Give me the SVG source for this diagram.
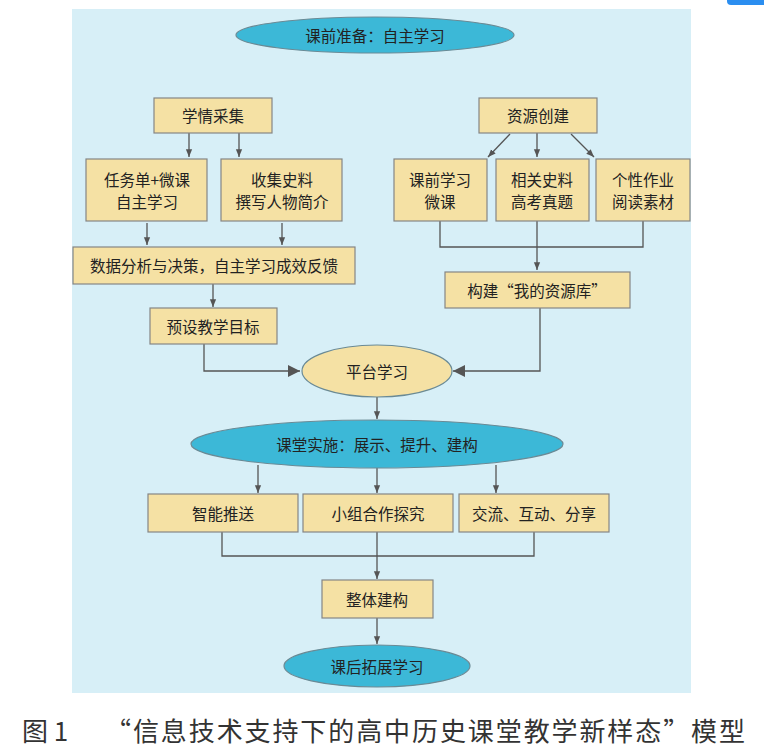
<svg xmlns="http://www.w3.org/2000/svg" width="764" height="755" viewBox="0 0 764 755">
<defs>
<style>
.b{fill:#f5e1a4;stroke:#858585;stroke-width:1.2}
.e{fill:#3cb8d7;stroke:#6a8a95;stroke-width:1.2}
.y{fill:#f5e1a4;stroke:#6a8a95;stroke-width:1.2}
text{font-family:"Noto Sans CJK SC","Noto Sans",sans-serif;font-size:15.5px;fill:#222;text-anchor:middle;dominant-baseline:central}
.c path{fill:none;stroke:#555;stroke-width:1.3}
.cap{font-size:26px;fill:#333;text-anchor:start}
</style>
<marker id="a" viewBox="0 0 10 10" refX="10" refY="5" markerWidth="6" markerHeight="6" orient="auto"><path d="M0,1 L10,5 L0,9 z" fill="#555"/></marker>
<marker id="A" viewBox="0 0 10 10" refX="10" refY="5" markerWidth="12" markerHeight="12" orient="auto" markerUnits="userSpaceOnUse"><path d="M0,0 L10,5 L0,10 z" fill="#555"/></marker>
</defs>
<rect x="727" y="-6" width="40" height="11" rx="4" fill="#2b8ef0"/>
<rect x="72" y="9" width="619" height="684" fill="#d7eff7"/>
<g id="connectors" class="c">
<path d="M189,133V157" marker-end="url(#a)"/>
<path d="M239,133V157" marker-end="url(#a)"/>
<path d="M510,134L488,157" marker-end="url(#a)"/>
<path d="M537,133V157" marker-end="url(#a)"/>
<path d="M571,134L594,157" marker-end="url(#a)"/>
<path d="M147,223V245" marker-end="url(#a)"/>
<path d="M282,223V245" marker-end="url(#a)"/>
<path d="M440,221V247H643V221"/>
<path d="M537,221V270" marker-end="url(#a)"/>
<path d="M213,284V307" marker-end="url(#a)"/>
<path d="M204,344V371H300" marker-end="url(#A)"/>
<path d="M540,308V371H453" marker-end="url(#A)"/>
<path d="M377,397V419" marker-end="url(#a)"/>
<path d="M258,465V493" marker-end="url(#a)"/>
<path d="M377,466V493" marker-end="url(#a)"/>
<path d="M496,465V493" marker-end="url(#a)"/>
<path d="M222,532V556H534V532"/>
<path d="M377,532V579" marker-end="url(#a)"/>
<path d="M377,618V644" marker-end="url(#a)"/>
</g>
<g id="n1"><ellipse class="e" cx="375" cy="35" rx="139" ry="18"/><text x="375" y="35">课前准备：自主学习</text></g>
<g id="n2"><rect class="b" x="154" y="98" width="118" height="35"/><text x="213" y="115">学情采集</text></g>
<g id="n3"><rect class="b" x="479" y="98" width="118" height="35"/><text x="538" y="115">资源创建</text></g>
<g id="n4"><rect class="b" x="86" y="159" width="121" height="62"/><text x="147" y="179">任务单+微课</text><text x="147" y="201">自主学习</text></g>
<g id="n5"><rect class="b" x="221" y="159" width="121" height="62"/><text x="282" y="179">收集史料</text><text x="282" y="201">撰写人物简介</text></g>
<g id="n6"><rect class="b" x="394" y="159" width="93" height="62"/><text x="440" y="179">课前学习</text><text x="440" y="201">微课</text></g>
<g id="n7"><rect class="b" x="496" y="159" width="93" height="62"/><text x="542" y="179">相关史料</text><text x="542" y="201">高考真题</text></g>
<g id="n8"><rect class="b" x="596" y="159" width="94" height="62"/><text x="643" y="179">个性作业</text><text x="643" y="201">阅读素材</text></g>
<g id="n9"><rect class="b" x="73" y="247" width="282" height="37"/><text x="214" y="265">数据分析与决策，自主学习成效反馈</text></g>
<g id="n10"><rect class="b" x="445" y="272" width="185" height="36"/><text x="537" y="290">构建“我的资源库”</text></g>
<g id="n11"><rect class="b" x="150" y="308" width="127" height="36"/><text x="213" y="326">预设教学目标</text></g>
<g id="n12"><ellipse class="y" cx="377" cy="371" rx="75" ry="26"/><text x="377" y="371">平台学习</text></g>
<g id="n13"><ellipse class="e" cx="377" cy="444" rx="186" ry="24"/><text x="377" y="444">课堂实施：展示、提升、建构</text></g>
<g id="n14"><rect class="b" x="148" y="494" width="150" height="38"/><text x="223" y="513">智能推送</text></g>
<g id="n15"><rect class="b" x="303" y="494" width="150" height="38"/><text x="378" y="513">小组合作探究</text></g>
<g id="n16"><rect class="b" x="459" y="494" width="150" height="38"/><text x="534" y="513">交流、互动、分享</text></g>
<g id="n17"><rect class="b" x="322" y="580" width="111" height="38"/><text x="377" y="599">整体建构</text></g>
<g id="n18"><ellipse class="e" cx="377" cy="666" rx="93" ry="21"/><text x="377" y="666">课后拓展学习</text></g>
<text class="cap" x="22" y="729">图 1</text>
<text class="cap" x="105" y="729" textLength="640" lengthAdjust="spacing">“信息技术支持下的高中历史课堂教学新样态”模型</text>
</svg>
